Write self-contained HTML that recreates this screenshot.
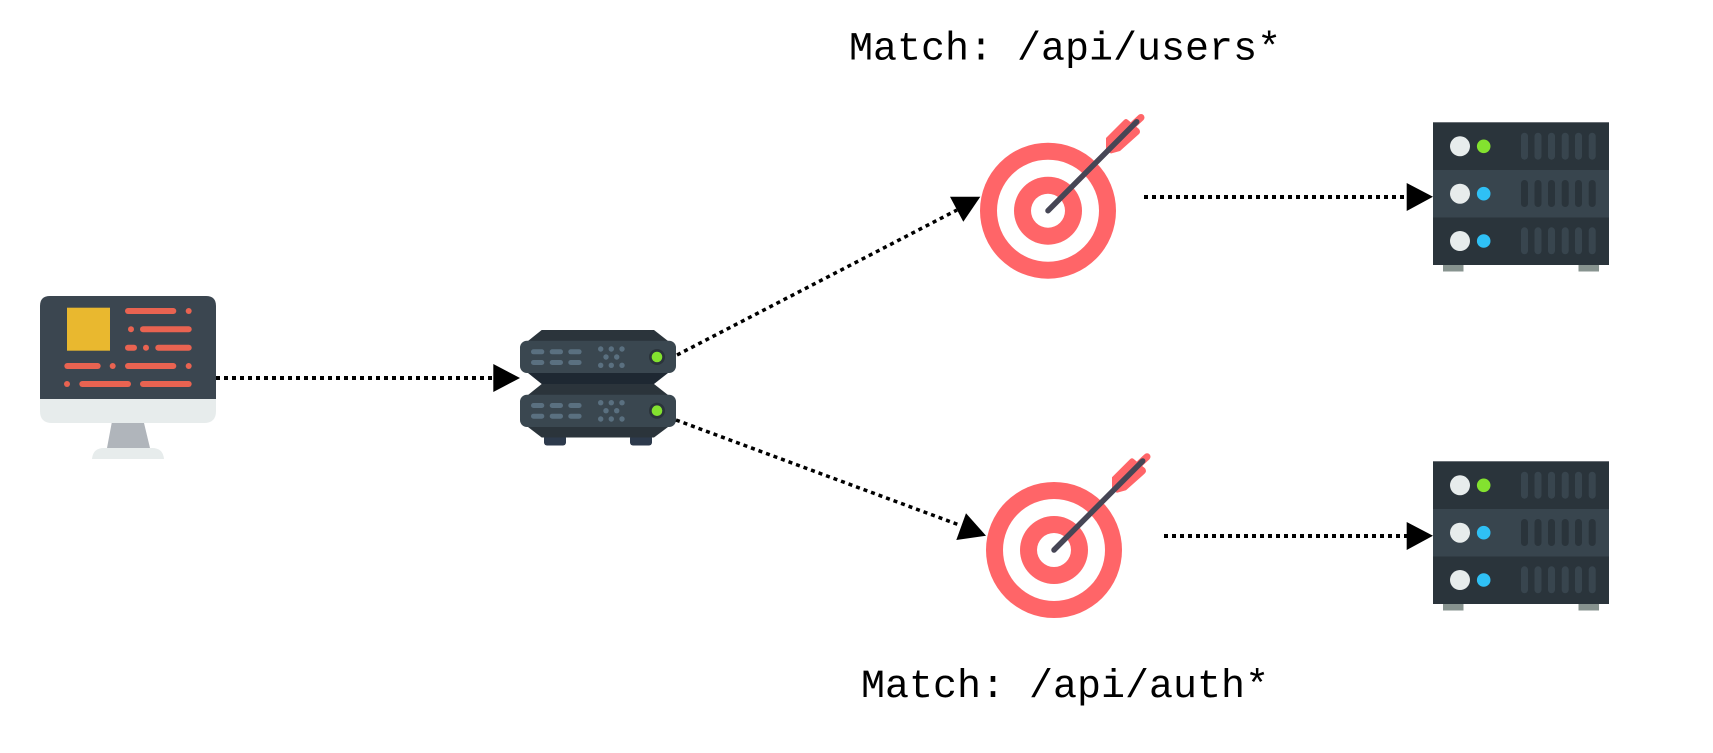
<!DOCTYPE html>
<html lang="en">
<head>
<meta charset="utf-8">
<title>Path-based routing diagram</title>
<style>
html,body{margin:0;padding:0;background:#fff;width:1713px;height:753px;overflow:hidden}
svg{display:block}
text{font-family:"Liberation Mono",monospace;font-size:40px;fill:#000}
</style>
</head>
<body>
<svg xmlns="http://www.w3.org/2000/svg" xmlns:xlink="http://www.w3.org/1999/xlink" width="1713" height="753" viewBox="0 0 1713 753">
<defs>
  <g id="server">
    <rect x="1443" y="264" width="20.5" height="7.5" fill="#87938f"/>
    <rect x="1578.5" y="264" width="20.5" height="7.5" fill="#87938f"/>
    <rect x="1433" y="122.3" width="176" height="142.7" fill="#2a343b"/>
    <rect x="1433" y="170" width="176" height="47.5" fill="#38454e"/>
    <g fill="#e7ecec">
      <circle cx="1460" cy="146.3" r="10"/>
      <circle cx="1460" cy="193.7" r="10"/>
      <circle cx="1460" cy="241" r="10"/>
    </g>
    <circle cx="1483.7" cy="146.3" r="6.8" fill="#83e22f"/>
    <circle cx="1483.7" cy="193.7" r="6.8" fill="#2fc0f5"/>
    <circle cx="1483.7" cy="241" r="6.8" fill="#2fc0f5"/>
    <g fill="#38454e">
      <rect x="1521" y="132.7" width="7" height="27" rx="3.5"/>
      <rect x="1534.5" y="132.7" width="7" height="27" rx="3.5"/>
      <rect x="1548" y="132.7" width="7" height="27" rx="3.5"/>
      <rect x="1561.7" y="132.7" width="7" height="27" rx="3.5"/>
      <rect x="1575" y="132.7" width="7" height="27" rx="3.5"/>
      <rect x="1588.7" y="132.7" width="7" height="27" rx="3.5"/>
      <rect x="1521" y="227.3" width="7" height="27" rx="3.5"/>
      <rect x="1534.5" y="227.3" width="7" height="27" rx="3.5"/>
      <rect x="1548" y="227.3" width="7" height="27" rx="3.5"/>
      <rect x="1561.7" y="227.3" width="7" height="27" rx="3.5"/>
      <rect x="1575" y="227.3" width="7" height="27" rx="3.5"/>
      <rect x="1588.7" y="227.3" width="7" height="27" rx="3.5"/>
    </g>
    <g fill="#2a343b">
      <rect x="1521" y="180" width="7" height="27" rx="3.5"/>
      <rect x="1534.5" y="180" width="7" height="27" rx="3.5"/>
      <rect x="1548" y="180" width="7" height="27" rx="3.5"/>
      <rect x="1561.7" y="180" width="7" height="27" rx="3.5"/>
      <rect x="1575" y="180" width="7" height="27" rx="3.5"/>
      <rect x="1588.7" y="180" width="7" height="27" rx="3.5"/>
    </g>
  </g>
  <g id="target">
    <circle cx="1048" cy="210.7" r="68" fill="#ff6568"/>
    <circle cx="1048" cy="210.7" r="51" fill="#fff"/>
    <circle cx="1048" cy="210.7" r="34" fill="#ff6568"/>
    <circle cx="1048" cy="210.7" r="17" fill="#fff"/>
    <path d="M1106 138L1124 120Q1126 118 1128 120L1139 129Q1141 132 1139 134L1120 151L1111 153.5L1106 151Z" fill="#ff6568"/>
    <line x1="1134" y1="124" x2="1141" y2="117.5" stroke="#ff6568" stroke-width="7" stroke-linecap="round"/>
    <line x1="1048" y1="210.7" x2="1136.7" y2="121.7" stroke="#464655" stroke-width="5.5" stroke-linecap="round"/>
  </g>
  <g id="routerDots" fill="#5a7080">
    <rect x="531" y="349.3" width="13.3" height="5" rx="2.5"/>
    <rect x="549.7" y="349.3" width="13.3" height="5" rx="2.5"/>
    <rect x="568.3" y="349.3" width="13.3" height="5" rx="2.5"/>
    <rect x="531" y="360" width="13.3" height="5" rx="2.5"/>
    <rect x="549.7" y="360" width="13.3" height="5" rx="2.5"/>
    <rect x="568.3" y="360" width="13.3" height="5" rx="2.5"/>
    <circle cx="600.7" cy="349" r="2.7"/>
    <circle cx="611.3" cy="349" r="2.7"/>
    <circle cx="622" cy="349" r="2.7"/>
    <circle cx="606" cy="357" r="2.7"/>
    <circle cx="616.7" cy="357" r="2.7"/>
    <circle cx="600.7" cy="365.3" r="2.7"/>
    <circle cx="611.3" cy="365.3" r="2.7"/>
    <circle cx="622" cy="365.3" r="2.7"/>
    <circle cx="657" cy="357" r="8" fill="#2b343b"/>
    <circle cx="657" cy="357" r="5.3" fill="#83e22f"/>
  </g>
</defs>

<!-- client monitor -->
<path d="M111.7 423H144L150 448H107Z" fill="#b0b5bb"/>
<path d="M92 459Q93 448 104 448H152Q163 448 164 459Z" fill="#e7ecec"/>
<path d="M40 399H216V411Q216 423 204 423H52Q40 423 40 411Z" fill="#e7ecec"/>
<path d="M40 399V306Q40 296 50 296H206Q216 296 216 306V399Z" fill="#3b4650"/>
<rect x="67" y="307.7" width="43" height="43" fill="#e9b82f"/>
<g fill="#e96351">
  <rect x="125" y="308" width="51.3" height="6" rx="3"/>
  <circle cx="188.7" cy="311" r="3"/>
  <circle cx="131" cy="329.3" r="3"/>
  <rect x="140" y="326.3" width="51.7" height="6" rx="3"/>
  <rect x="125" y="344.7" width="12" height="6" rx="3"/>
  <circle cx="146" cy="347.7" r="3"/>
  <rect x="155.3" y="344.7" width="36.4" height="6" rx="3"/>
  <rect x="64.3" y="363" width="36.4" height="6" rx="3"/>
  <circle cx="112.7" cy="366" r="3"/>
  <rect x="125" y="363" width="51.3" height="6" rx="3"/>
  <circle cx="188.7" cy="366" r="3"/>
  <circle cx="67" cy="384" r="3"/>
  <rect x="79.3" y="381" width="51.7" height="6" rx="3"/>
  <rect x="140" y="381" width="51.7" height="6" rx="3"/>
</g>

<!-- router -->
<rect x="544" y="435" width="22" height="10.5" rx="3" fill="#2d3a4c"/>
<rect x="630" y="435" width="22" height="10.5" rx="3" fill="#2d3a4c"/>
<polygon points="541.7,330 654,330 668,341 528,341" fill="#2b343b"/>
<polygon points="528,373 668,373 654,384 541.7,384" fill="#1e2832"/>
<polygon points="541.7,384 654,384 668,395 528,395" fill="#2b343b"/>
<polygon points="528,427 668,427 654,437.5 541.7,437.5" fill="#2b343b"/>
<rect x="520" y="340.7" width="156" height="32.3" rx="7" fill="#3a4750"/>
<rect x="520" y="394.7" width="156" height="32.3" rx="7" fill="#3a4750"/>
<use xlink:href="#routerDots" href="#routerDots"/>
<use xlink:href="#routerDots" href="#routerDots" y="53.7"/>

<!-- targets -->
<use xlink:href="#target" href="#target"/>
<use xlink:href="#target" href="#target" x="6" y="339.3"/>

<!-- servers -->
<use xlink:href="#server" href="#server"/>
<use xlink:href="#server" href="#server" y="339"/>

<!-- connectors -->
<g stroke="#000" stroke-width="4" stroke-dasharray="4 4" fill="none">
  <line x1="216" y1="378" x2="494" y2="378"/>
  <line x1="1144" y1="197" x2="1408" y2="197"/>
  <line x1="1164" y1="536" x2="1408" y2="536"/>
</g>
<g stroke="#000" stroke-width="3.5" stroke-dasharray="4 4" fill="none">
  <line x1="677" y1="355" x2="957" y2="210"/>
  <line x1="676" y1="420" x2="958" y2="524.5"/>
</g>
<g fill="#000">
  <polygon points="493.3,364 520,378 493.3,392"/>
  <polygon points="950,196.7 980.3,196.7 963.3,221.7"/>
  <polygon points="966,513.3 986,535.7 956.3,540"/>
  <polygon points="1406.7,183 1433,196.7 1406.7,211"/>
  <polygon points="1406.7,522 1433,535.7 1406.7,550"/>
</g>

<!-- labels -->
<text x="849" y="59.5">Match: /api/users*</text>
<text x="861" y="697">Match: /api/auth*</text>
</svg>
</body>
</html>
